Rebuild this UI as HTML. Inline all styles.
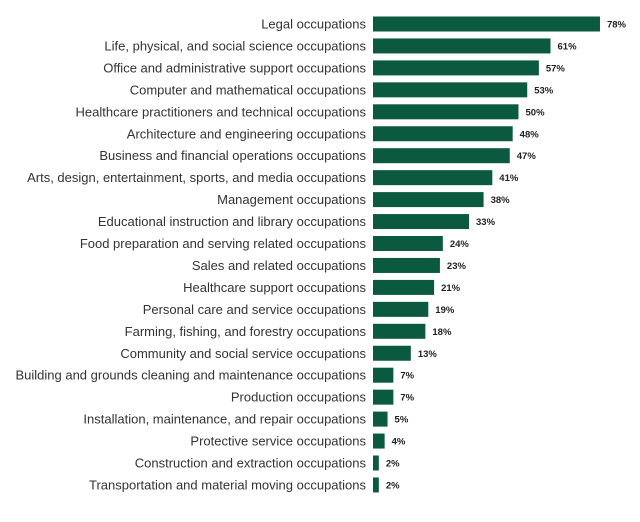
<!DOCTYPE html>
<html><head><meta charset="utf-8"><style>
body{margin:0;background:#fff;width:640px;height:517px;overflow:hidden}
svg text{font-family:"Liberation Sans",sans-serif}
</style></head><body>
<svg id="chart" width="640" height="517"></svg>
<script>
const categories=["Legal occupations","Life, physical, and social science occupations","Office and administrative support occupations","Computer and mathematical occupations","Healthcare practitioners and technical occupations","Architecture and engineering occupations","Business and financial operations occupations","Arts, design, entertainment, sports, and media occupations","Management occupations","Educational instruction and library occupations","Food preparation and serving related occupations","Sales and related occupations","Healthcare support occupations","Personal care and service occupations","Farming, fishing, and forestry occupations","Community and social service occupations","Building and grounds cleaning and maintenance occupations","Production occupations","Installation, maintenance, and repair occupations","Protective service occupations","Construction and extraction occupations","Transportation and material moving occupations"];
const values=[78,61,57,53,50,48,47,41,38,33,24,23,21,19,18,13,7,7,5,4,2,2];
const svg=document.getElementById('chart');
const NS='http://www.w3.org/2000/svg';
const x0=373,pxPer=2.91,y0=24,step=21.95,bh=15;
const xs=v=>x0+v*pxPer;
const ys=i=>y0+i*step;
categories.forEach((c,i)=>{
  const cy=ys(i);
  const t=document.createElementNS(NS,'text');
  
  
  t.setAttribute('x',366);t.setAttribute('y',cy+4.5);t.setAttribute('text-anchor','end');
  t.setAttribute('font-size','13');t.setAttribute('fill','#333');
  t.textContent=c;svg.appendChild(t);
  const r=document.createElementNS(NS,'rect');
  
  
  r.setAttribute('x',x0);r.setAttribute('y',cy-bh/2);r.setAttribute('width',xs(values[i])-x0);r.setAttribute('height',bh);
  r.setAttribute('fill','#0b5a40');svg.appendChild(r);
  const v=document.createElementNS(NS,'text');
  
  
  v.setAttribute('x',xs(values[i])+7);v.setAttribute('y',cy+3.5);
  v.setAttribute('font-size','9.5');v.setAttribute('font-weight','bold');v.setAttribute('fill','#222');
  v.textContent=values[i]+'%';svg.appendChild(v);
});
</script>
</body></html>
